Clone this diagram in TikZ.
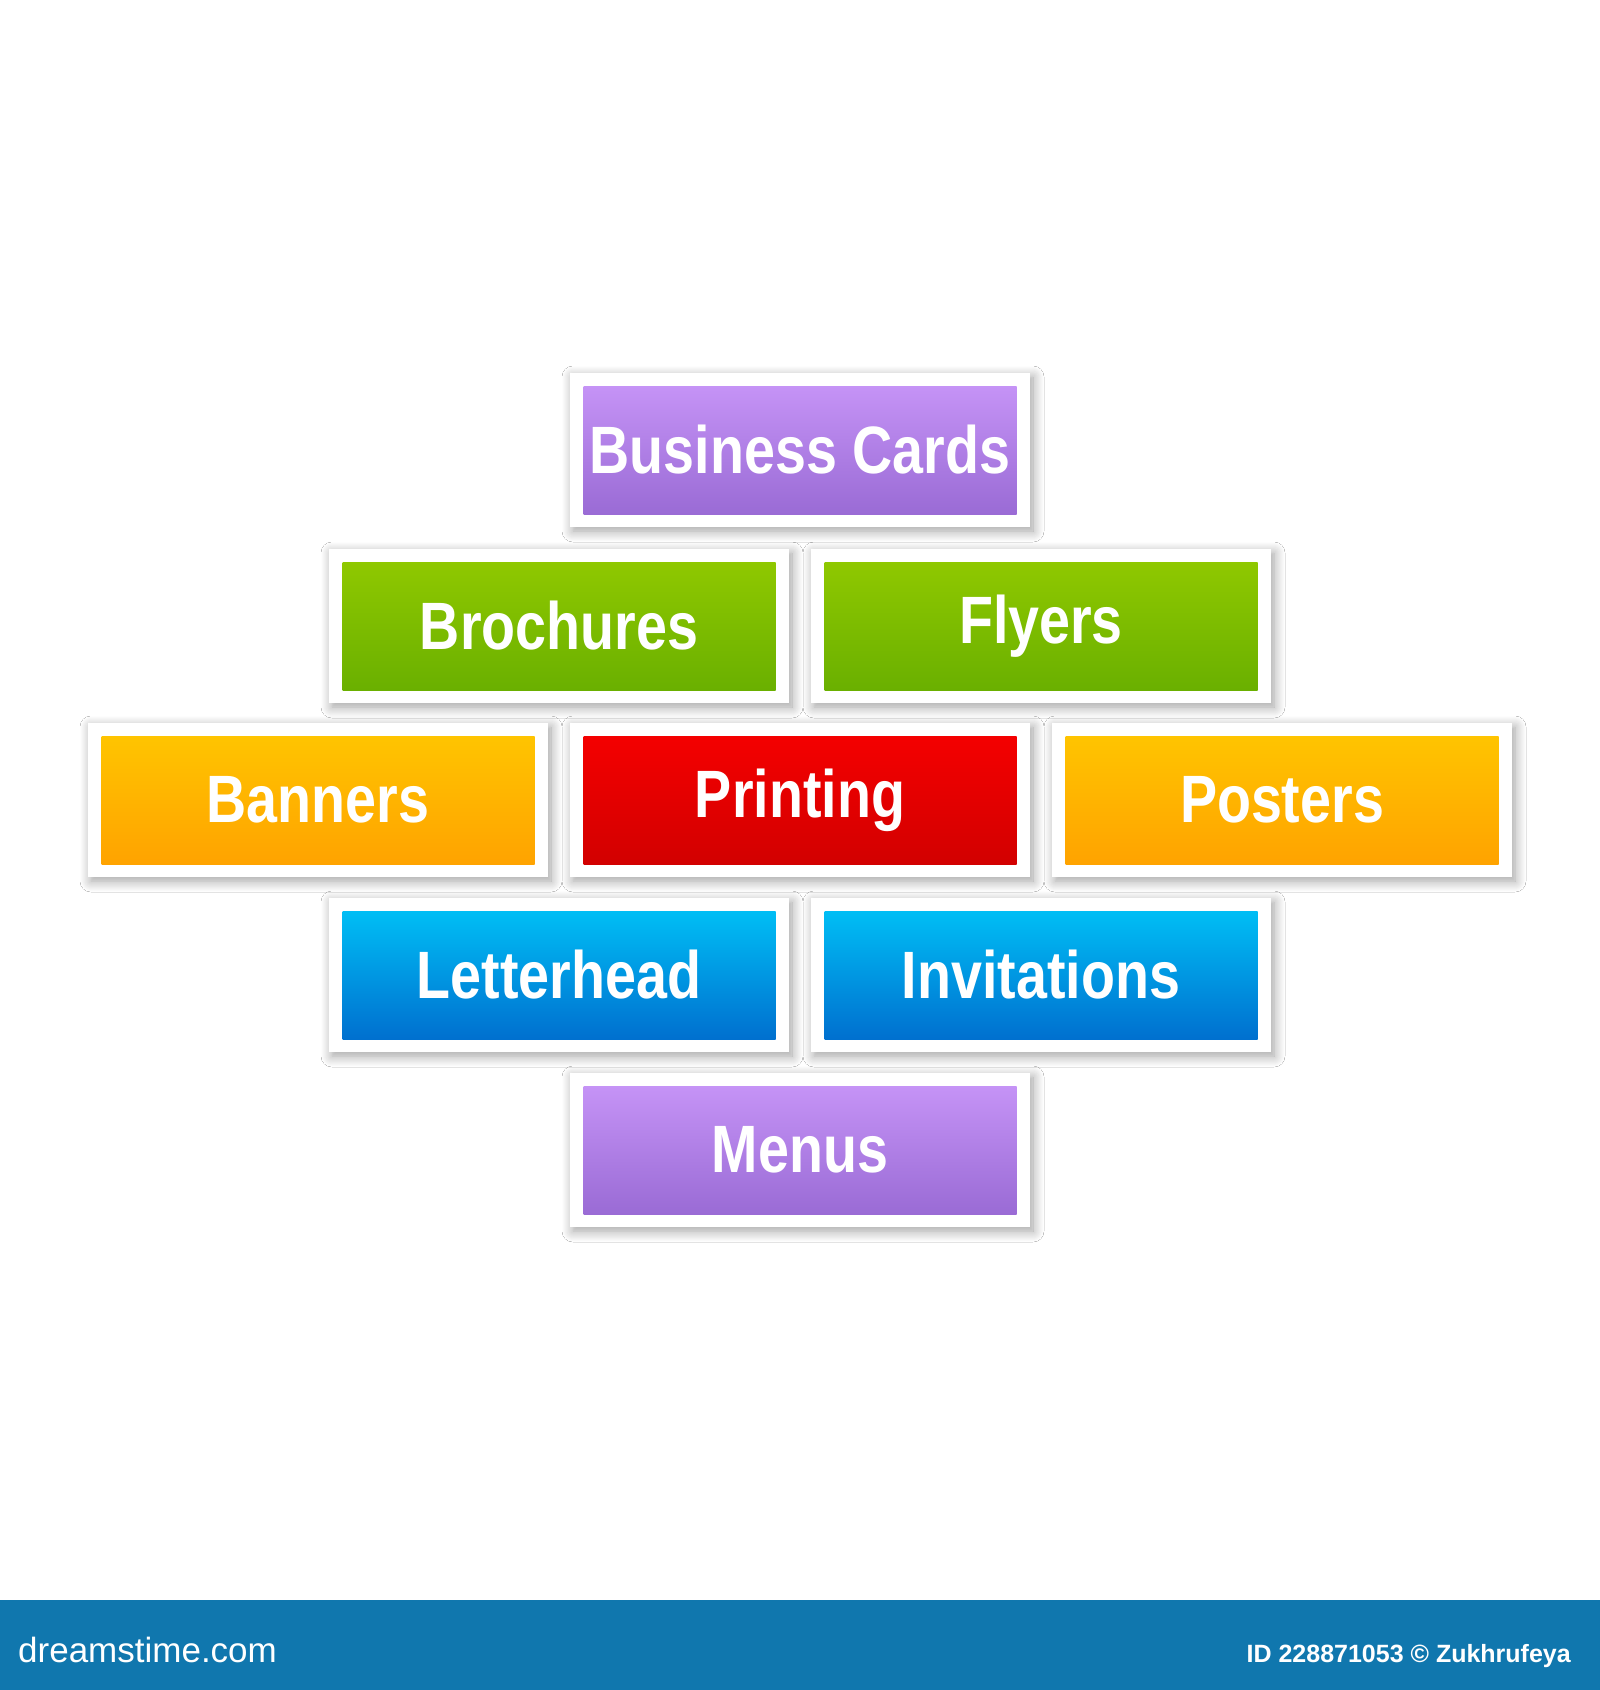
\documentclass[tikz,border=0pt]{standalone}
\usepackage{fontspec}
\setmainfont{Liberation Sans}
\newfontfamily\boxfont{Liberation Sans}[FakeStretch=0.83]
\usetikzlibrary{shadows.blur}
\definecolor{purpT}{HTML}{C593F6}
\definecolor{purpB}{HTML}{9A6BD5}
\definecolor{greenT}{HTML}{8FC800}
\definecolor{greenB}{HTML}{6AB000}
\definecolor{orT}{HTML}{FFC400}
\definecolor{orB}{HTML}{FFA300}
\definecolor{redT}{HTML}{F40000}
\definecolor{redB}{HTML}{D20000}
\definecolor{bluT}{HTML}{00BEF5}
\definecolor{bluB}{HTML}{0070CF}
\definecolor{barblue}{HTML}{1077AE}
\tikzset{
  frame/.style={rectangle, fill=white, minimum width=460pt, minimum height=154pt, inner sep=0pt,
    blur shadow={shadow xshift=3pt, shadow yshift=-4pt, shadow blur radius=11pt, shadow blur steps=12, shadow opacity=38}},
  innerbox/.style={rectangle, minimum width=433pt, minimum height=128pt, inner sep=0pt},
  lbl/.style={inner sep=0pt, text=white, font=\boxfont\bfseries\fontsize{67}{67}\selectfont},
  bartext/.style={inner sep=0pt, text=white}
}
\newcommand\colbox[6]{%
  \node[frame] (#1) at (#2,#3) {};
  \node[innerbox, top color=#4, bottom color=#5] (#1-in) at (#1.center) {};
  \node[lbl] (#1-txt) at (#1.center) {#6};
}
\begin{document}
\begin{tikzpicture}[x=1pt,y=-1pt]
\useasboundingbox (0,0) rectangle (1600,1690);
\fill[white] (0,0) rectangle (1600,1690);
\colbox{bc}{800}{450}{purpT}{purpB}{Business Cards}
\colbox{bro}{559}{626}{greenT}{greenB}{Brochures}
\colbox{fly}{1041}{626}{greenT}{greenB}{Flyers}
\colbox{ban}{318}{800}{orT}{orB}{Banners}
\colbox{pri}{800}{800}{redT}{redB}{Printing}
\colbox{pos}{1282}{800}{orT}{orB}{Posters}
\colbox{let}{559}{975}{bluT}{bluB}{Letterhead}
\colbox{inv}{1041}{975}{bluT}{bluB}{Invitations}
\colbox{men}{800}{1150}{purpT}{purpB}{Menus}
\fill[barblue] (0,1600) rectangle (1600,1690);
\node[bartext, anchor=base west, font=\fontsize{35}{35}\selectfont] (logo) at (18,1662) {dreamstime.com};
\node[bartext, anchor=base east, font=\bfseries\fontsize{25}{25}\selectfont] (id) at (1571,1662) {ID 228871053 © Zukhrufeya};
\end{tikzpicture}
\end{document}
